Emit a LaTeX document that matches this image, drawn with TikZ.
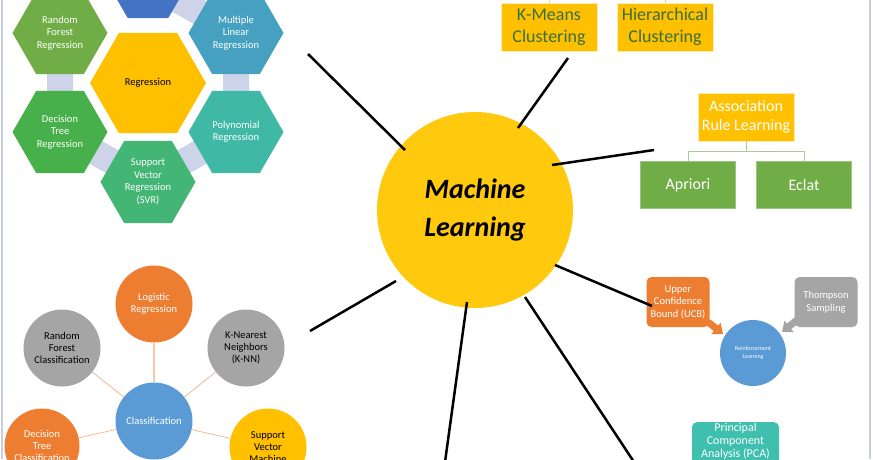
\documentclass[tikz,border=0pt]{standalone}
\usepackage{fontspec}
\setmainfont{Carlito}
\usetikzlibrary{shapes.geometric,arrows.meta}
\definecolor{ylw}{HTML}{FFC000}
\definecolor{mly}{HTML}{FFC90E}
\definecolor{grn}{HTML}{70AD47}
\definecolor{org}{HTML}{ED7D31}
\definecolor{gry}{HTML}{A5A5A5}
\definecolor{blu}{HTML}{5B9BD5}
\definecolor{dblu}{HTML}{4472C4}
\definecolor{teal}{HTML}{3FBFAD}
\definecolor{lav}{HTML}{CDD3E8}
\definecolor{dkg}{HTML}{3A6E3F}
\definecolor{lor}{HTML}{F4B183}
\definecolor{edge}{HTML}{C8CFE0}
\tikzset{
 hex/.style={regular polygon,regular polygon sides=6,inner sep=0pt,minimum size=#1,draw=none,text=white,align=center,font=\fontsize{10.5}{12.5}\selectfont},
 circ/.style={circle,inner sep=0pt,minimum size=#1,draw=none,text=white,align=center,font=\fontsize{10.5}{12}\selectfont},
 box/.style={rectangle,inner sep=0pt,draw=white!70!ylw,line width=0.6pt,align=center,minimum width=96pt,minimum height=48pt},
 rbox/.style={rectangle,rounded corners=5pt,inner sep=0pt,align=center,text=white,font=\fontsize{10.5}{12.5}\selectfont,minimum width=63pt,minimum height=50pt},
 spoke/.style={line width=2.5pt,black},
 cl/.style={line width=0.7pt,lor},
 gl/.style={line width=0.8pt,grn!60!white},
 lavl/.style={lav,line width=26pt},
 blk/.style={line width=7pt,-{Triangle[width=14pt,length=9pt]}}
}
\begin{document}
\begin{tikzpicture}[x=1pt,y=-1pt]
\useasboundingbox (0,0) rectangle (873,459);
\fill[white] (0,0) rectangle (873,459);
\draw[edge,line width=2pt] (2,0) -- (2,459);
\draw[edge,line width=2pt] (870,0) -- (870,459);
% regression hexagons
\coordinate (ht) at (148,-17);
\coordinate (hm) at (236,33);
\coordinate (hp) at (236,132);
\coordinate (hs) at (148,182);
\coordinate (hd) at (60,132);
\coordinate (hr) at (60,33);
\draw[lavl] (ht) -- (hm) -- (hp) -- (hs) -- (hd) -- (hr);
\node[hex=81pt,fill=dblu] (top) at (ht) {};
\node[hex=95pt,fill=grn] (rf) at (hr) {Random\\Forest\\Regression};
\node[hex=95pt,fill={rgb,255:red,70;green,160;blue,192}] (ml) at (hm) {Multiple\\Linear\\Regression};
\node[hex=95pt,fill={rgb,255:red,71;green,176;blue,74}] (dt) at (hd) {Decision\\Tree\\Regression};
\node[hex=95pt,fill={rgb,255:red,63;green,185;blue,165}] (pr) at (hp) {Polynomial\\Regression};
\node[hex=95pt,fill={rgb,255:red,67;green,181;blue,116}] (svr) at (hs) {Support\\Vector\\Regression\\(SVR)};
\node[hex=116pt,fill=ylw,text=black] (reg) at (148,83) {Regression};
% classification
\node[circ=77pt,fill=blu] (cls) at (154,421) {Classification};
\node[circ=77pt,fill=org] (log) at (154,304) {Logistic\\Regression};
\node[circ=77pt,fill=gry,text=black] (rfc) at (62,348) {Random\\Forest\\Classification};
\node[circ=77pt,fill=gry,text=black] (knn) at (246,348) {K-Nearest\\Neighbors\\(K-NN)};
\node[circ=75pt,fill=org] (dtc) at (42,446) {Decision\\Tree\\Classification};
\node[circ=77pt,fill=ylw,text=black] (svm) at (268,447) {Support\\Vector\\Machine};
\draw[cl,line width=2pt,lor!70!white] (cls) -- (log);
\foreach \n in {rfc,knn,dtc,svm} \draw[cl] (cls) -- (\n);
% center
\node[circle,fill=mly,minimum size=196pt,inner sep=0pt,align=center,font=\fontsize{28}{38}\selectfont\bfseries\itshape] (ml0) at (475,210) {Machine\\Learning};
% clustering
\node[box,fill=ylw,text=dkg,font=\fontsize{18}{22}\selectfont] (km) at (549,27) {K-Means\\Clustering};
\node[box,fill=ylw,text=dkg,font=\fontsize{18}{22}\selectfont] (hc) at (665,27) {Hierarchical\\Clustering};
\draw[ylw!60!white,line width=0.6pt] (km.north) -- +(0,-3) (hc.north) -- +(0,-3);
% association
\node[box,fill=ylw,text=white,font=\fontsize{16}{19}\selectfont] (ar) at (746,117) {Association\\Rule Learning};
\node[box,fill=grn,draw=grn!70!white,text=white,font=\fontsize{16}{19}\selectfont,minimum width=95pt,minimum height=47pt] (ap) at (688,185) {Apriori};
\node[box,fill=grn,draw=grn!70!white,text=white,font=\fontsize{16}{19}\selectfont,minimum width=95pt,minimum height=47pt] (ec) at (804,185) {Eclat};
\draw[gl] (ar.south) -- (746,151) -| (ap.north);
\draw[gl] (746,151) -| (ec.north);
% reinforcement
\node[rbox,fill=org] (ucb) at (678,302) {Upper\\Confidence\\Bound (UCB)};
\node[rbox,fill=gry] (ts) at (826,302) {Thompson\\Sampling};
\node[circ=66pt,fill=blu,font=\fontsize{6}{8}\selectfont] (rl) at (753,353) {Reinforcement\\Learning};
\draw[blk,org] (708,322) -- (723,334);
\draw[blk,gry] (797,320) -- (782,332);
% pca
\node[rbox,fill=teal,minimum width=87pt,minimum height=60pt,anchor=north,font=\fontsize{12}{13}\selectfont,text depth=24pt,inner sep=0pt] (pca) at (735.5,422) {Principal\\Component\\Analysis (PCA)};
% spokes
\coordinate (e1) at (308,54);
\coordinate (e5) at (310,331);
\coordinate (e6) at (445,462);
\coordinate (e7) at (634,462);
\draw[spoke] (e1) -- (405,150);
\draw[spoke] (518,128) -- (568,58);
\draw[spoke] (552,165) -- (654,150);
\draw[spoke] (555,265) -- (652,306);
\draw[spoke] (e5) -- (396,281);
\draw[spoke] (467,302) -- (e6);
\draw[spoke] (525,297) -- (e7);
\end{tikzpicture}
\end{document}
